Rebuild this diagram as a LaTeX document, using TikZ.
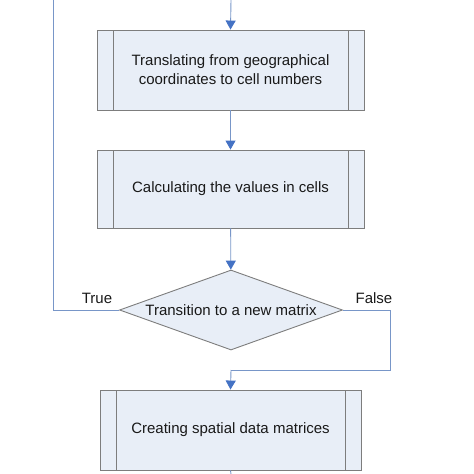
\documentclass[tikz,border=0pt]{standalone}
\usepackage{fontspec}
\setmainfont{Liberation Sans}
\usetikzlibrary{shapes.geometric,arrows.meta}
\definecolor{cfill}{RGB}{232,238,247}
\definecolor{cedge}{RGB}{125,125,125}
\definecolor{cline}{RGB}{120,150,200}
\definecolor{ctip}{RGB}{68,114,196}
\tikzset{
  procbox/.style={draw=cedge,fill=cfill,line width=0.9pt,minimum width=#1,minimum height=80pt,
    align=center,font=\fontsize{15}{19}\selectfont,text=black!90,inner sep=0pt,
    path picture={
      \draw[cedge,line width=0.9pt] ([xshift=16pt]path picture bounding box.north west) -- ([xshift=16pt]path picture bounding box.south west);
      \draw[cedge,line width=0.9pt] ([xshift=-16pt]path picture bounding box.north east) -- ([xshift=-16pt]path picture bounding box.south east);
    }},
  decision/.style={diamond,aspect=2.79,draw=cedge,fill=cfill,line width=0.9pt,minimum width=223pt,minimum height=80pt,
    inner sep=0pt,font=\fontsize{15}{19}\selectfont,text=black!90},
  flow/.style={cline,line width=0.9pt,-{Triangle[width=10pt,length=9pt,color=ctip]}},
  loop/.style={cline,line width=0.9pt},
  answer/.style={font=\fontsize{15}{19}\selectfont,text=black!90}
}

\begin{document}
\begin{tikzpicture}[x=1pt,y=-1pt]

  % fixed frame, same size as the reference
  \useasboundingbox (0,0) rectangle (474,474);

  % ---------------- Steps ----------------
  \node[procbox=267pt] (translate) at (230.5,70) {Translating from geographical\\coordinates to cell numbers};
  \node[procbox=267pt,minimum height=78pt] (calc) at (230.5,189) {Calculating the values in cells};
  \node[decision] (newmatrix) at (231,310) {Transition to a new matrix};
  \node[procbox=261pt] (create) at (230.5,430) {Creating spatial data matrices};

  % ---------------- Connectors ----------------
  \coordinate (intop) at (231,0);
  \coordinate (looptop) at (53,0);
  \coordinate (falseR) at (390,310);
  \coordinate (falseD) at (390,370);
  \coordinate (falseL) at (231,370);
  \coordinate (outbot) at (231,474);

  \draw[flow] (intop) -- (translate.north);
  \draw[flow] (translate) -- (calc);
  \draw[flow] (calc) -- (newmatrix);
  \draw[loop] (newmatrix.west) -| (looptop);
  \draw[loop] (newmatrix.east) -- (falseR) -- (falseD) -- (falseL);
  \draw[flow] (falseL) -- (create.north);
  \draw[loop] (create.south) -- (outbot);

  % branch labels
  \node[answer] (truelbl) at (97,298) {True};
  \node[answer] (falselbl) at (374,298) {False};

\end{tikzpicture}
\end{document}
